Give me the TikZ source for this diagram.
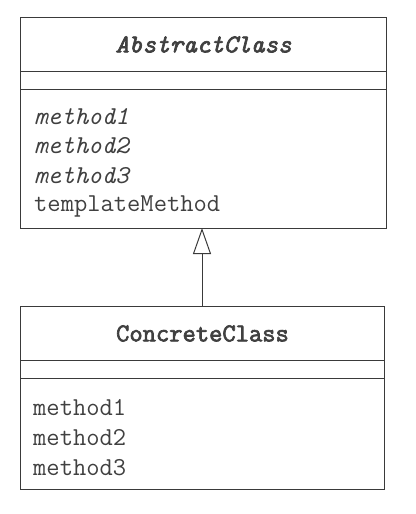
\documentclass[tikz,border=0pt]{standalone}
\usepackage{fontspec}
\setmonofont{Latin Modern Mono}[AutoFakeBold=2.6]
\newfontfamily\bimono{lmmono10-italic.otf}[FakeBold=2.6]
\usetikzlibrary{arrows.meta}
\definecolor{ink}{HTML}{3A3A3A}
\definecolor{txt}{HTML}{404040}
\newcommand{\umlfont}{\fontsize{25.8}{27}\ttfamily}
\tikzset{
  compart/.style={draw=ink, line width=1pt, anchor=north west, inner sep=0pt, minimum width=366pt},
  label/.style={anchor=west, inner sep=0pt, text=txt, font=\umlfont},
  ilabel/.style={label, font=\umlfont\itshape},
  title/.style={inner sep=0pt, text=txt, font=\umlfont\bfseries},
}
\begin{document}
\begin{tikzpicture}[x=1pt,y=-1pt]
\useasboundingbox (0,0) rectangle (415,514);
% AbstractClass
\node[compart, minimum height=54pt] (ahead) at (20,17) {};
\node[compart, minimum height=18pt] (aattr) at (20,71) {};
\node[compart, minimum height=139pt] (abody) at (20,89) {};
\node[title, font=\fontsize{25.8}{27}\bimono] (aname) at (ahead.center) {AbstractClass};
\node[ilabel] (am1) at (34,117) {method1};
\node[ilabel] (am2) at (34,146) {method2};
\node[ilabel] (am3) at (34,176) {method3};
\node[label] (atm) at (34,206) {templateMethod};
% ConcreteClass
\node[compart, minimum width=364pt, minimum height=54pt] (chead) at (20,306) {};
\node[compart, minimum width=364pt, minimum height=18pt] (cattr) at (20,360) {};
\node[compart, minimum width=364pt, minimum height=111pt] (cbody) at (20,378) {};
\node[title] (cname) at (chead.center) {ConcreteClass};
\node[label] (cm1) at (33,408) {method1};
\node[label] (cm2) at (33,438) {method2};
\node[label] (cm3) at (33,468) {method3};
% generalization
\coordinate (ctop) at (202,306);
\coordinate (abot) at (202,228);
\draw[ink, line width=1pt, -{Triangle[open, width=18pt, length=26pt]}] (ctop) -- (abot);
\end{tikzpicture}
\end{document}
